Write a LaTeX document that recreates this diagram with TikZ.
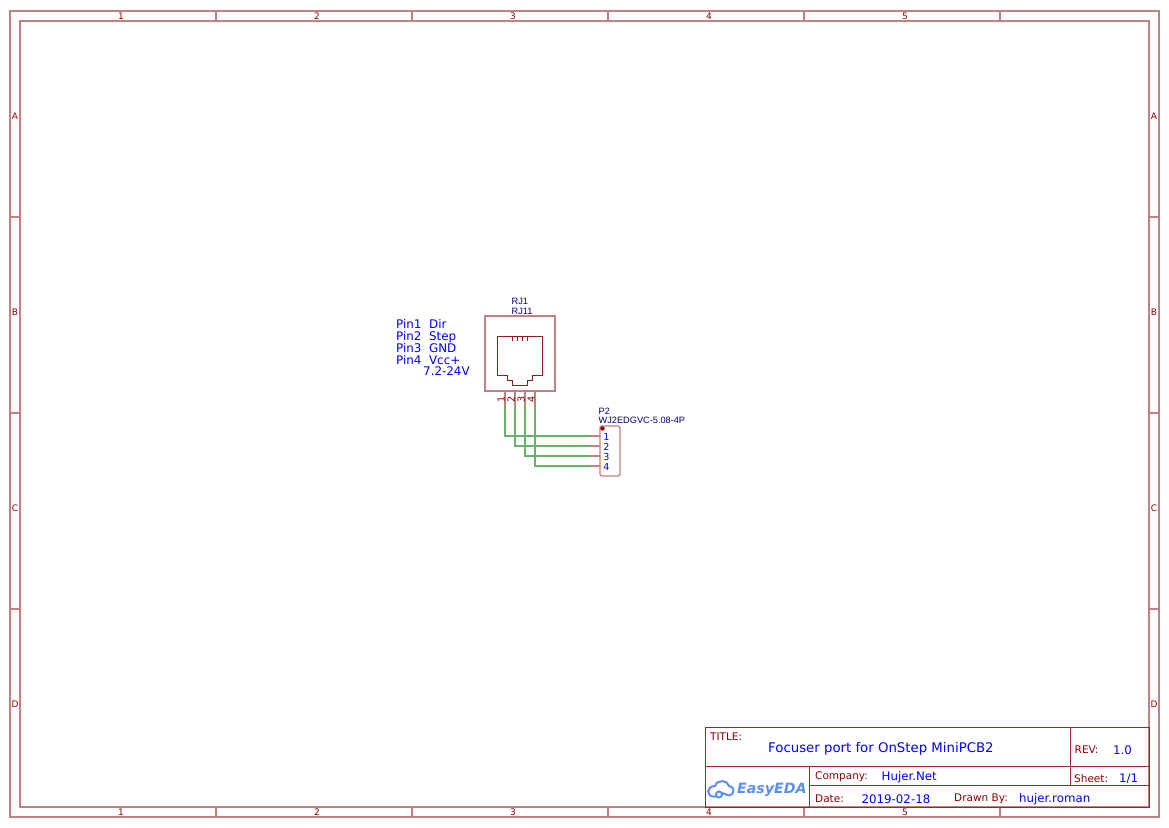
\documentclass[tikz,border=0pt]{standalone}
\usepackage{fontspec}
\setmainfont{DejaVu Sans}
\newfontfamily\partfont{Liberation Sans}
\usepackage{xcolor}
\definecolor{sheetred}{HTML}{880000}
\definecolor{partblue}{HTML}{000080}
\definecolor{wiregreen}{HTML}{339933}
\definecolor{logoblue}{HTML}{5B90F0}
\tikzset{
    sheetline/.style={draw=sheetred!50, line width=1.3pt},
    blockline/.style={draw=sheetred!85, line width=1pt},
    partline/.style={draw=sheetred!50, line width=1.3pt},
    symbolline/.style={draw=sheetred!90, line width=0.9pt},
    wireline/.style={draw=wiregreen!75, line width=1.15pt},
    gridlabel/.style={text=sheetred, font=\fontsize{9}{10}\selectfont, inner sep=0pt},
    blocklabel/.style={text=sheetred, font=\fontsize{10.5}{11}\selectfont, anchor=west, inner sep=0pt},
    blockvalue/.style={text=blue, font=\fontsize{11.8}{12}\selectfont, anchor=west, inner sep=0pt},
    partlabel/.style={text=partblue, font=\partfont\fontsize{9.2}{10}\selectfont, anchor=west, inner sep=0pt},
    pinlabel/.style={text=blue, font=\fontsize{9.6}{10}\selectfont, inner sep=0pt},
    pinnumber/.style={text=sheetred, font=\fontsize{9.6}{10}\selectfont, rotate=90, inner sep=0pt},
}
\begin{document}
\begin{tikzpicture}[x=1pt, y=-1pt]
            \useasboundingbox (0, 0) rectangle (1169, 827);

            \draw[sheetline] (10, 11) rectangle (1159, 817);
            \draw[sheetline] (20, 21) rectangle (1149, 807);
            \draw[sheetline] (216, 11) -- (216, 21);
            \draw[sheetline] (412, 11) -- (412, 21);
            \draw[sheetline] (608, 11) -- (608, 21);
            \draw[sheetline] (804, 11) -- (804, 21);
            \draw[sheetline] (1000, 11) -- (1000, 21);
            \draw[sheetline] (216, 807) -- (216, 817);
            \draw[sheetline] (412, 807) -- (412, 817);
            \draw[sheetline] (608, 807) -- (608, 817);
            \draw[sheetline] (804, 807) -- (804, 817);
            \draw[sheetline] (1000, 807) -- (1000, 817);
            \draw[sheetline] (10, 217) -- (20, 217);
            \draw[sheetline] (10, 413) -- (20, 413);
            \draw[sheetline] (10, 609) -- (20, 609);
            \draw[sheetline] (1149, 217) -- (1159, 217);
            \draw[sheetline] (1149, 413) -- (1159, 413);
            \draw[sheetline] (1149, 609) -- (1159, 609);

            \node[gridlabel] (topone) at (121, 16.5) {1};
            \node[gridlabel] (toptwo) at (317, 16.5) {2};
            \node[gridlabel] (topthree) at (513, 16.5) {3};
            \node[gridlabel] (topfour) at (709, 16.5) {4};
            \node[gridlabel] (topfive) at (905, 16.5) {5};
            \node[gridlabel] (bottomone) at (121, 812.5) {1};
            \node[gridlabel] (bottomtwo) at (317, 812.5) {2};
            \node[gridlabel] (bottomthree) at (513, 812.5) {3};
            \node[gridlabel] (bottomfour) at (709, 812.5) {4};
            \node[gridlabel] (bottomfive) at (905, 812.5) {5};
            \node[gridlabel] (leftA) at (15, 116) {A};
            \node[gridlabel] (leftB) at (15, 312) {B};
            \node[gridlabel] (leftC) at (15, 508) {C};
            \node[gridlabel] (leftD) at (15, 704) {D};
            \node[gridlabel] (rightA) at (1154, 116) {A};
            \node[gridlabel] (rightB) at (1154, 312) {B};
            \node[gridlabel] (rightC) at (1154, 508) {C};
            \node[gridlabel] (rightD) at (1154, 704) {D};

            \node[text=blue, font=\fontsize{11.9}{11.75}\selectfont, align=left, anchor=north west, inner sep=0pt] (pinnotes) at (396, 319.7) {Pin1\ \ Dir\\Pin2\ \ Step\\Pin3\ \ GND\\Pin4\ \ Vcc+\\\hspace*{27pt}7.2-24V};

            \node[partlabel] (rjname) at (511.5, 301) {RJ1};
            \node[partlabel] (rjvalue) at (511.5, 311) {RJ11};
            \draw[partline] (485, 316) rectangle (555, 391);
            \draw[symbolline] (497.5, 336) -- (542.5, 336) -- (542.5, 375.7) -- (532.7, 375.7) -- (532.7, 380.5) -- (527.7, 380.5) -- (527.7, 385.7) -- (512.3, 385.7) -- (512.3, 380.5) -- (507, 380.5) -- (507, 375.7) -- (497.5, 375.7) -- cycle;
            \draw[symbolline] (512.7, 336) -- (512.7, 341);
            \draw[symbolline] (517.7, 336) -- (517.7, 341);
            \draw[symbolline] (522.7, 336) -- (522.7, 341);
            \draw[symbolline] (527.7, 336) -- (527.7, 341);

            \coordinate (rjbaseone) at (505, 391);
            \coordinate (rjbasetwo) at (515, 391);
            \coordinate (rjbasethree) at (525, 391);
            \coordinate (rjbasefour) at (535, 391);
            \coordinate (rjpinone) at (505, 406);
            \coordinate (rjpintwo) at (515, 406);
            \coordinate (rjpinthree) at (525, 406);
            \coordinate (rjpinfour) at (535, 406);
            \draw[partline] (rjbaseone) -- (rjpinone);
            \draw[partline] (rjbasetwo) -- (rjpintwo);
            \draw[partline] (rjbasethree) -- (rjpinthree);
            \draw[partline] (rjbasefour) -- (rjpinfour);
            \node[pinnumber] (rjnumone) at (501, 399.5) {1};
            \node[pinnumber] (rjnumtwo) at (511, 399.5) {2};
            \node[pinnumber] (rjnumthree) at (521, 399.5) {3};
            \node[pinnumber] (rjnumfour) at (531, 399.5) {4};

            \node[partlabel] (pname) at (598.5, 411) {P2};
            \node[partlabel] (pvalue) at (598.5, 420.5) {WJ2EDGVC-5.08-4P};
            \draw[partline, rounded corners=2pt] (600, 426) rectangle (620, 476);
            \fill[sheetred] (602.5, 428.5) circle (2.2);
            \coordinate (pwireone) at (590.5, 436);
            \coordinate (pwiretwo) at (590.5, 446);
            \coordinate (pwirethree) at (590.5, 456);
            \coordinate (pwirefour) at (590.5, 466);
            \coordinate (pbodyone) at (600, 436);
            \coordinate (pbodytwo) at (600, 446);
            \coordinate (pbodythree) at (600, 456);
            \coordinate (pbodyfour) at (600, 466);
            \draw[partline] (pwireone) -- (pbodyone);
            \draw[partline] (pwiretwo) -- (pbodytwo);
            \draw[partline] (pwirethree) -- (pbodythree);
            \draw[partline] (pwirefour) -- (pbodyfour);
            \node[pinlabel] (pnumone) at (606.5, 437) {1};
            \node[pinlabel] (pnumtwo) at (606.5, 447) {2};
            \node[pinlabel] (pnumthree) at (606.5, 457) {3};
            \node[pinlabel] (pnumfour) at (606.5, 467) {4};

            \draw[wireline] (rjpinone) |- (pwireone);
            \draw[wireline] (rjpintwo) |- (pwiretwo);
            \draw[wireline] (rjpinthree) |- (pwirethree);
            \draw[wireline] (rjpinfour) |- (pwirefour);

            \draw[blockline] (705, 727) rectangle (1149, 807);
            \draw[blockline] (705, 766.5) -- (1149, 766.5);
            \draw[blockline] (809.5, 785.7) -- (1149, 785.7);
            \draw[blockline] (809.5, 766.5) -- (809.5, 807);
            \draw[blockline] (1070, 727) -- (1070, 785.7);

            \node[blocklabel] (titlelabel) at (710, 736.5) {TITLE:};
            \node[blockvalue, font=\fontsize{13.3}{14}\selectfont] (titlevalue) at (768, 749) {Focuser port for OnStep MiniPCB2};
            \node[blocklabel] (revlabel) at (1074.5, 750) {REV:};
            \node[blockvalue] (revvalue) at (1113, 750) {1.0};
            \node[blocklabel] (companylabel) at (815, 777) {Company:};
            \node[blockvalue] (companyvalue) at (881.5, 777) {Hujer.Net};
            \node[blocklabel] (sheetlabel) at (1074, 778.5) {Sheet:};
            \node[blockvalue] (sheetvalue) at (1119, 779) {1/1};
            \node[blocklabel] (datelabel) at (815, 799) {Date:};
            \node[blockvalue] (datevalue) at (861.5, 799) {2019-02-18};
            \node[blocklabel] (drawnlabel) at (954, 799) {Drawn By:};
            \node[blockvalue] (drawnvalue) at (1019, 799) {hujer.roman};

            \draw[logoblue, line width=2pt, line cap=round, line join=round] (722, 793) -- (729, 795.5) .. controls (735, 795) and (735, 786) .. (729, 786) .. controls (728, 780) and (717, 779) .. (715, 786) .. controls (706, 786) and (706, 797) .. (714, 796.5) -- (716, 796.5);
            \draw[logoblue, line width=2pt] (719, 794.5) circle (3);
            \node[text=logoblue, font=\fontsize{14.2}{16}\selectfont\bfseries\itshape, anchor=west, inner sep=0pt] (logotext) at (737, 789.5) {EasyEDA};
        \end{tikzpicture}
\end{document}
